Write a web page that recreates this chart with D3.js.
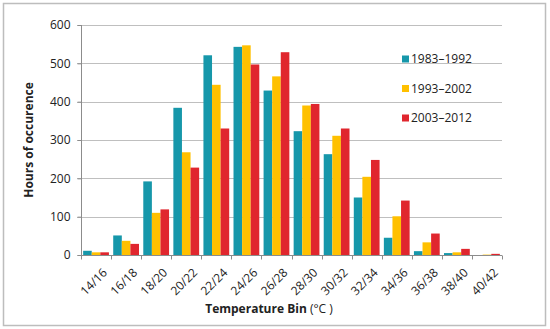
<!DOCTYPE html>
<html>
<head>
<meta charset="utf-8">
<script src="https://cdn.jsdelivr.net/npm/d3@7"></script>
<style>
  body { margin: 0; background: #fff; }
  text { font-family: "Open Sans", "DejaVu Sans", sans-serif; fill: #222; }
</style>
</head>
<body>
<svg id="chart" width="550" height="329"></svg>
<script>
const categories = ["14/16", "16/18", "18/20", "20/22", "22/24", "24/26", "26/28",
  "28/30", "30/32", "32/34", "34/36", "36/38", "38/40", "40/42"];
const seriesNames = ["1983\u20131992", "1993\u20132002", "2003\u20132012"];
const colors = ["#1697aa", "#ffc000", "#e0262e"];
const values1983 = [11, 51, 192, 384, 521, 543, 429, 323, 263, 150, 45, 10, 5, 0];
const values1993 = [7, 37, 110, 268, 444, 547, 466, 390, 311, 204, 101, 33, 7, 1];
const values2003 = [7, 29, 119, 228, 330, 497, 529, 394, 330, 248, 142, 56, 16, 3];
const yTicks = [0, 100, 200, 300, 400, 500, 600];

const seriesValues = [values1983, values1993, values2003];

const svg = d3.select("#chart");

// outer frame
svg.append("rect")
  .attr("x", 3.5).attr("y", 3.5)
  .attr("width", 542).attr("height", 322)
  .attr("fill", "#fff")
  .attr("stroke", "#bdbdbd")
  .attr("stroke-width", 1.5);

// plot area bounds (named to avoid clashing with window.top)
const plotL = 81, plotR = 502, plotT = 25, plotB = 255;

const x = d3.scaleBand().domain(categories).range([plotL, plotR]);
const xInner = d3.scaleBand().domain(d3.range(3))
  .range([0, x.bandwidth()]).paddingInner(0).paddingOuter(0.25);
const y = d3.scaleLinear().domain([0, 600]).range([plotB, plotT]);

// gridlines
svg.append("g")
  .selectAll("line")
  .data(yTicks.slice(1))
  .join("line")
  .attr("x1", plotL - 4).attr("x2", plotR)
  .attr("y1", d => Math.round(y(d)) + 0.5).attr("y2", d => Math.round(y(d)) + 0.5)
  .attr("stroke", "#bfbfbf");

// bars
const groups = svg.append("g")
  .selectAll("g")
  .data(categories)
  .join("g")
  .attr("transform", d => `translate(${x(d)},0)`);

groups.selectAll("rect")
  .data((d, i) => seriesValues.map((s, k) => ({ k, v: s[i] })))
  .join("rect")
  .attr("x", d => xInner(d.k))
  .attr("width", xInner.bandwidth())
  .attr("y", d => y(d.v))
  .attr("height", d => plotB - y(d.v))
  .attr("fill", d => colors[d.k]);

// y axis
const yAxis = svg.append("g")
  .attr("transform", `translate(${plotL + 0.5},0)`)
  .call(d3.axisLeft(y).tickValues(yTicks).tickSize(4).tickPadding(7));
yAxis.select(".domain").attr("stroke", "#8c8c8c").attr("d", `M-4,${plotB + 0.5}H0V${plotT}`);
yAxis.selectAll(".tick line").attr("stroke", "#8c8c8c");
yAxis.selectAll(".tick text").style("font-size", "12px").attr("fill", "#222");

// x axis
const xAxis = svg.append("g")
  .attr("transform", `translate(0,${plotB + 0.5})`)
  .call(d3.axisBottom(x).tickSize(0).tickPadding(0));
xAxis.select(".domain").attr("stroke", "#8c8c8c").attr("d", `M${plotL},0H${plotR}`);
xAxis.selectAll(".tick text")
  .style("font-size", "12px")
  .attr("fill", "#222")
  .attr("text-anchor", "end")
  .attr("transform", "translate(6,12) rotate(-45)")
  .attr("dy", "0.7em");
// band boundary ticks
xAxis.append("g")
  .selectAll("line")
  .data(d3.range(categories.length + 1))
  .join("line")
  .attr("x1", i => Math.round(plotL + i * x.step()) + 0.5)
  .attr("x2", i => Math.round(plotL + i * x.step()) + 0.5)
  .attr("y1", 0).attr("y2", 4)
  .attr("stroke", "#8c8c8c");

// axis titles
svg.append("text")
  .attr("transform", `translate(33,140) rotate(-90)`)
  .attr("text-anchor", "middle")
  .style("font-size", "12px")
  .style("font-weight", "bold")
  .text("Hours of occurence");

const xt = svg.append("text")
  .attr("x", 269).attr("y", 313)
  .attr("text-anchor", "middle")
  .style("font-size", "12px");
xt.append("tspan").style("font-weight", "bold").text("Temperature Bin ");
xt.append("tspan").text("(\u00b0C )");

// legend
const legend = svg.append("g")
  .selectAll("g")
  .data(seriesNames)
  .join("g")
  .attr("transform", (d, i) => `translate(402,${59 + i * 29.5})`);
legend.append("rect")
  .attr("x", 0).attr("y", -3.5)
  .attr("width", 7).attr("height", 7)
  .attr("fill", (d, i) => colors[i]);
legend.append("text")
  .attr("x", 9).attr("y", 0)
  .attr("dy", "0.35em")
  .style("font-size", "12px")
  .text(d => d);
</script>
</body>
</html>
